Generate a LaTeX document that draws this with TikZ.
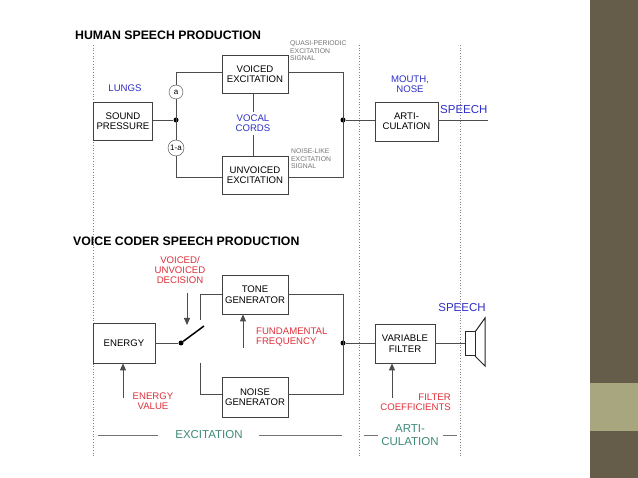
\documentclass[tikz,border=0pt]{standalone}
\usepackage{fontspec}
\setmainfont{Liberation Sans}
\usetikzlibrary{arrows.meta}
\definecolor{olive}{HTML}{655D49}
\definecolor{lolive}{HTML}{A8A67F}
\definecolor{lblue}{HTML}{2E2EC8}
\definecolor{lred}{HTML}{E0303A}
\definecolor{lgreen}{HTML}{3F8A78}
\begin{document}
\begin{tikzpicture}[x=1pt,y=-1pt,
  blk/.style={draw=black!75,line width=0.8pt},
  ln/.style={draw=black!70,line width=0.8pt},
  txt/.style={font=\fontsize{9.6}{10.4}\selectfont,align=center,inner sep=0pt},
  bl/.style={txt,text=lblue},
  rd/.style={txt,text=lred},
  gr/.style={font=\fontsize{6.8}{7.4}\selectfont,text=black!55,align=left,inner sep=0pt,anchor=north west},
  gn/.style={font=\fontsize{11.5}{12.5}\selectfont,text=lgreen,align=center,inner sep=0pt},
  dotl/.style={draw=black!50,dotted,line width=0.7pt},
  ar/.style={ln,-{Triangle[length=7pt,width=6pt]}},
  dot/.style={circle,fill=black,inner sep=0pt,minimum size=5pt}]
\useasboundingbox (0,0) rectangle (638,478);
\fill[white] (0,0) rectangle (638,478);
\fill[olive] (590,0) rectangle (638,478);
\fill[lolive] (590,383) rectangle (638,431);
% dotted separators
\draw[dotl] (93,45) -- (93,458);
\draw[dotl] (359,45) -- (359,458);
\draw[dotl] (460,45) -- (460,458);
% ---- human
\node[anchor=west,font=\bfseries\fontsize{12.3}{14}\selectfont,inner sep=0pt] (t1) at (75,35) {HUMAN SPEECH PRODUCTION};
\node[blk,txt,minimum width=59,minimum height=38] (sp) at (123,121) {SOUND\\PRESSURE};
\node[blk,txt,minimum width=66,minimum height=38] (ve) at (255,74) {VOICED\\EXCITATION};
\node[blk,txt,minimum width=66,minimum height=38] (ue) at (255,175) {UNVOICED\\EXCITATION};
\node[blk,txt,minimum width=63,minimum height=39] (ar1) at (406.5,121.5) {ARTI-\\CULATION};
\node[bl] (lu) at (125,88) {LUNGS};
\node[bl] (mn) at (410,84) {MOUTH,\\NOSE};
\node[bl] (vc) at (253,123) {VOCAL\\CORDS};
\node[bl,font=\fontsize{11.5}{12}\selectfont,anchor=west] (s1) at (440,110) {SPEECH};
\node[gr] (q) at (290,41) {QUASI-PERIODIC\\EXCITATION\\SIGNAL};
\node[gr] (n) at (291,149) {NOISE-LIKE\\EXCITATION\\SIGNAL};
\node[dot] (j1) at (176,120) {};
\node[dot] (j2) at (343,120) {};
\coordinate (ct) at (176,72);
\coordinate (cb) at (176,177);
\coordinate (rt) at (343,72);
\coordinate (rb) at (343,177);
\coordinate (so) at (488,120);
\draw[ln] (sp.east |- j1) -- (j1);
\draw[ln] (ve.west |- ct) -- (ct) -- (cb) -- (ue.west |- cb);
\draw[ln] (ve.east |- rt) -- (rt) -- (rb) -- (ue.east |- rb);
\draw[ln] (j2) -- (ar1.west |- j2);
\draw[ln] (ar1.east |- so) -- (so);
\draw[ln] (ve.south -| vc) -- (253,112);
\draw[ln] (253,135) -- (ue.north -| vc);
\node[circle,draw=black!75,fill=white,inner sep=0pt,minimum size=14,font=\fontsize{8}{9}\selectfont] (ca) at (176,92) {a};
\node[circle,draw=black!75,fill=white,inner sep=0pt,minimum size=16,font=\fontsize{8}{9}\selectfont] (c1) at (176,148) {1-a};
% ---- vocoder
\node[anchor=west,font=\bfseries\fontsize{12.3}{14}\selectfont,inner sep=0pt] (t2) at (73,241) {VOICE CODER SPEECH PRODUCTION};
\node[blk,txt,minimum width=62,minimum height=40] (en) at (124,343) {ENERGY};
\node[blk,txt,minimum width=66,minimum height=39] (tg) at (255,294.5) {TONE\\GENERATOR};
\node[blk,txt,minimum width=66,minimum height=40] (ng) at (255,397) {NOISE\\GENERATOR};
\node[blk,txt,minimum width=60,minimum height=39] (vf) at (405,343.5) {VARIABLE\\FILTER};
\node[rd] (vud) at (180,270) {VOICED/\\UNVOICED\\DECISION};
\node[rd,align=left,anchor=west] (ff) at (256,337) {FUNDAMENTAL\\FREQUENCY};
\node[rd] (ev) at (153,401) {ENERGY\\VALUE};
\node[rd,align=right,anchor=east] (fc) at (451,402) {FILTER\\COEFFICIENTS};
\node[bl,font=\fontsize{11.5}{12}\selectfont] (s2) at (462,308) {SPEECH};
\node[dot] (sw) at (181,343) {};
\node[dot] (j3) at (343,343) {};
\coordinate (swe) at (204,326);
\coordinate (tl) at (200,320);
\coordinate (tt) at (200,294);
\coordinate (nl) at (200,363);
\coordinate (nb) at (200,394);
\coordinate (rt2) at (343,294);
\coordinate (rb2) at (343,394);
\coordinate (spk) at (465,343);
\draw[ln] (en.east |- sw) -- (sw);
\draw[black,line width=1.5pt] (sw) -- (swe);
\draw[ln] (tl) -- (tt) -- (tg.west |- tt);
\draw[ln] (nl) -- (nb) -- (ng.west |- nb);
\draw[ln] (tg.east |- rt2) -- (rt2) -- (rb2) -- (ng.east |- rb2);
\draw[ln] (j3) -- (vf.west |- j3);
\draw[ln] (vf.east |- spk) -- (spk);
\draw[ar] (187,293) -- (187,325);
\draw[ar] (243,348) -- (tg.south -| 243,0);
\draw[ar] (123,398) -- (en.south -| 123,0);
\draw[ar] (392,398) -- (vf.south -| 392,0);
% speaker
\draw[black!85,line width=1pt] (465,332) rectangle (475,356);
\draw[black!85,line width=1pt] (475,332) -- (485,318) -- (485,366) -- (475,356);
% bottom labels
\node[gn] (exc) at (209,435) {EXCITATION};
\node[gn] (art) at (410,435) {ARTI-\\CULATION};
\draw[ln,black!55] (98,435) -- (158,435);
\draw[ln,black!55] (259,435) -- (342,435);
\draw[ln,black!55] (364,435) -- (378,435);
\draw[ln,black!55] (443,435) -- (457,435);
\end{tikzpicture}
\end{document}
